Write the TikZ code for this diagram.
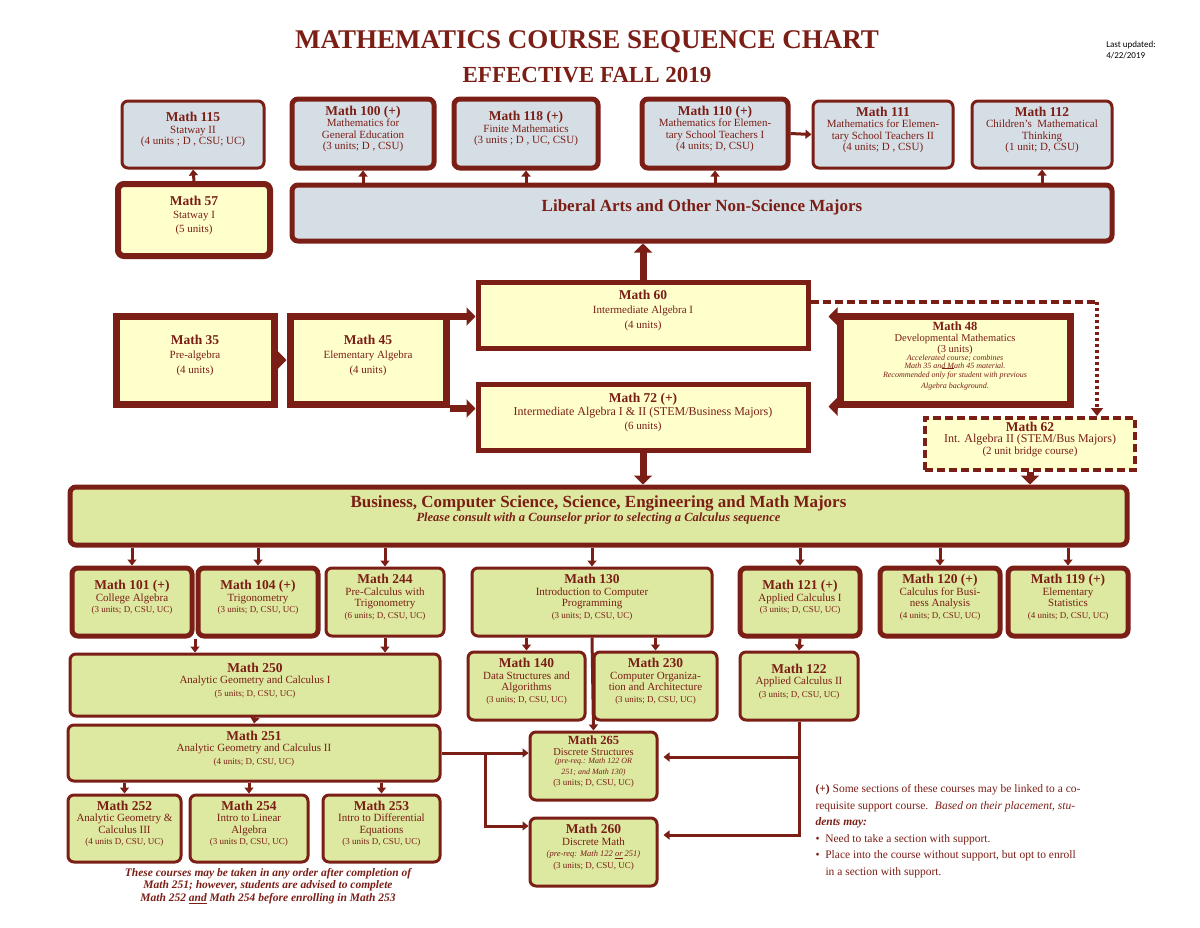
\documentclass[tikz,border=0pt]{standalone}
\usepackage{fontspec}
\setmainfont{Liberation Serif}
\newfontfamily\lu{Carlito}
\usetikzlibrary{fit,calc,arrows.meta,shadows}
\definecolor{mred}{RGB}{122,30,22}
\definecolor{gfill}{RGB}{214,222,229}
\definecolor{yfill}{RGB}{255,255,204}
\definecolor{nfill}{RGB}{221,233,160}
\newcommand\un[1]{{\fontsize{9}{10.5}\selectfont #1}}
\newcommand\hd[1]{{\fontsize{13.5}{15}\selectfont\bfseries #1}}
\begin{document}
\begin{tikzpicture}[x=1pt,y=-1pt,
  every node/.style={text=mred,align=center,font=\fontsize{11}{11.5}\selectfont},
  bx/.style={draw=mred,line width=3pt,rounded corners=6pt,inner sep=0pt},
  bev/.style={bx,line width=5pt,drop shadow={fill=mred!60!black,shadow xshift=1.5pt,shadow yshift=-1.5pt,opacity=0.8}},
  sq/.style={draw=mred,line width=7pt,inner sep=0pt,sharp corners},
  arr/.style={draw=mred,line width=3pt,-{Triangle[length=6pt,width=9pt]}},
  fat/.style={draw=mred,line width=7pt,-{Triangle[length=9pt,width=18pt]}}]
\useasboundingbox (0,0) rectangle (1200,927);
\node[font=\fontsize{27}{30}\selectfont\bfseries] (t1) at (587,42) {MATHEMATICS COURSE SEQUENCE CHART};
\node[font=\fontsize{23}{25}\selectfont\bfseries] (t2) at (587,75) {EFFECTIVE FALL 2019};
\node[text=black,font=\lu\fontsize{9}{11}\selectfont,align=left] (upd) at (1131,50) {Last updated:\\4/22/2019};
% top row
\node[bx,fill=gfill,fit={(122,101)(264,168)}] (m115) {\hd{Math 115}\\Statway II\\(4 units ; D , CSU; UC)};
\node[bev,fill=gfill,fit={(292,99)(434,168)}] (m100) {\hd{Math 100 (+)}\\Mathematics for\\General Education\\(3 units; D , CSU)};
\node[bev,fill=gfill,fit={(454,99)(598,168)}] (m118) {\hd{Math 118 (+)}\\Finite Mathematics\\(3 units ; D , UC, CSU)};
\node[bev,fill=gfill,fit={(642,99)(788,168)}] (m110) {\hd{Math 110 (+)}\\Mathematics for Elemen-\\tary School Teachers I\\(4 units; D, CSU)};
\node[bx,fill=gfill,fit={(813,101)(953,168)}] (m111) {\hd{Math 111}\\Mathematics for Elemen-\\tary School Teachers II\\(4 units; D , CSU)};
\node[bx,fill=gfill,fit={(972,101)(1112,168)}] (m112) {\hd{Math 112}\\Children's~ Mathematical\\Thinking\\(1 unit; D, CSU)};
\node[bx,line width=6pt,fill=yfill,fit={(118,184)(270,256)}] (m57) {\hd{Math 57}\\[2pt]Statway I\\[2pt](5 units)};
\node[bx,line width=5pt,fill=gfill,fit={(292,185)(1112,241)}] (la) {\fontsize{17}{19}\selectfont\bfseries Liberal Arts and Other Non-Science Majors};
% middle
\node[sq,line width=5pt,fill=yfill,fit={(478,282)(808,348)}] (m60) {\hd{Math 60}\\[3pt]Intermediate Algebra I\\[3pt](4 units)};
\node[sq,fill=yfill,fit={(116,316)(274,404)}] (m35) {\hd{Math 35}\\[3pt]Pre-algebra\\[3pt](4 units)};
\node[sq,fill=yfill,fit={(290,316)(446,404)}] (m45) {\hd{Math 45}\\[3pt]Elementary Algebra\\[3pt](4 units)};
\node[sq,line width=5pt,fill=yfill,drop shadow={fill=mred!60!black,shadow xshift=1.5pt,shadow yshift=-1.5pt},fit={(478,384)(808,450)}] (m72) {\hd{Math 72 (+)}\\[2pt]{\fontsize{12}{13}\selectfont Intermediate Algebra I \& II (STEM/Business Majors)}\\[2pt](6 units)};
\node[sq,fill=yfill,fit={(840,316)(1070,404)},font=\fontsize{10.5}{11}\selectfont] (m48) {{\fontsize{12.5}{13}\selectfont\bfseries Math 48}\\Developmental Mathematics\\(3 units)\\{\fontsize{8}{8.3}\selectfont\itshape Accelerated course; combines\\Math 35 and Math 45 material.\\Recommended only for student with previous\\Algebra background.}};
\draw[mred,line width=0.5pt] ([xshift=-13.5pt,yshift=-8.3pt]m48.center) -- ++(12,0); % underline "and"
\node[draw=mred,line width=4pt,dashed,dash pattern=on 8pt off 4pt,fill=yfill,inner sep=0pt,fit={(925,418)(1135,470)}] (m62) {\hd{Math 62}\\{\fontsize{12}{13.5}\selectfont Int. Algebra II (STEM/Bus Majors)}\\(2 unit bridge course)};
\node[bx,line width=5pt,fill=nfill,fit={(70,487)(1127,545)}] (bus) {\fontsize{17}{19}\selectfont\bfseries Business, Computer Science, Science, Engineering and Math Majors\\[1pt]\fontsize{12.5}{14}\selectfont\bfseries\itshape Please consult with a Counselor prior to selecting a Calculus sequence};
% lower
\node[bev,fill=nfill,fit={(72,568)(192,636)}] (m101) {\hd{Math 101 (+)}\\College Algebra\\\un{(3 units; D, CSU, UC)}};
\node[bev,fill=nfill,fit={(198,568)(318,636)}] (m104) {\hd{Math 104 (+)}\\Trigonometry\\\un{(3 units; D, CSU, UC)}};
\node[bx,fill=nfill,fit={(326,568)(444,636)}] (m244) {\hd{Math 244}\\Pre-Calculus with\\Trigonometry\\\un{(6 units; D, CSU, UC)}};
\node[bx,fill=nfill,fit={(472,568)(712,636)}] (m130) {\hd{Math 130}\\Introduction to Computer\\Programming\\\un{(3 units; D, CSU, UC)}};
\node[bev,fill=nfill,fit={(740,568)(860,636)}] (m121) {\hd{Math 121 (+)}\\Applied Calculus I\\\un{(3 units; D, CSU, UC)}};
\node[bev,fill=nfill,fit={(880,568)(1000,636)}] (m120) {\hd{Math 120 (+)}\\Calculus for Busi-\\ness Analysis\\\un{(4 units; D, CSU, UC)}};
\node[bev,fill=nfill,fit={(1008,568)(1128,636)}] (m119) {\hd{Math 119 (+)}\\Elementary\\Statistics\\\un{(4 units; D, CSU, UC)}};
\node[bx,fill=nfill,fit={(70,654)(440,716)}] (m250) {\hd{Math 250}\\Analytic Geometry and Calculus I\\[1pt]\un{(5 units; D, CSU, UC)}};
\node[bx,fill=nfill,fit={(468,652)(585,720)}] (m140) {\hd{Math 140}\\Data Structures and\\Algorithms\\\un{(3 units; D, CSU, UC)}};
\node[bx,fill=nfill,fit={(594,652)(717,720)}] (m230) {\hd{Math 230}\\Computer Organiza-\\tion and Architecture\\\un{(3 units; D, CSU, UC)}};
\node[bx,fill=nfill,fit={(740,652)(858,720)}] (m122) {\hd{Math 122}\\Applied Calculus II\\[1pt]\un{(3 units; D, CSU, UC)}};
\node[bx,fill=nfill,fit={(68,725)(440,781)}] (m251) {\hd{Math 251}\\Analytic Geometry and Calculus II\\[1pt]\un{(4 units; D, CSU, UC)}};
\node[bx,fill=nfill,fit={(530,732)(657,800)},font=\fontsize{10.5}{11}\selectfont] (m265) {{\fontsize{12.5}{13}\selectfont\bfseries Math 265}\\Discrete Structures\\{\fontsize{8}{8.5}\selectfont\itshape (pre-req.: Math 122 OR\\251; and Math 130)}\\\un{(3 units; D, CSU, UC)}};
\node[bx,fill=nfill,fit={(530,818)(657,886)}] (m260) {\hd{Math 260}\\Discrete Math\\{\fontsize{8.5}{9.5}\selectfont\itshape (pre-req: Math 122 \underline{or} 251)}\\\un{(3 units; D, CSU, UC)}};
\node[bx,fill=nfill,fit={(68,795)(181,862)}] (m252) {\hd{Math 252}\\Analytic Geometry \&\\Calculus III\\\un{(4 units D, CSU, UC)}};
\node[bx,fill=nfill,fit={(190,795)(308,862)}] (m254) {\hd{Math 254}\\Intro to Linear\\Algebra\\\un{(3 units D, CSU, UC)}};
\node[bx,fill=nfill,fit={(323,795)(440,862)}] (m253) {\hd{Math 253}\\Intro to Differential\\Equations\\\un{(3 units D, CSU, UC)}};
\node[font=\fontsize{11.5}{12.5}\selectfont\bfseries\itshape] (note1) at (268,886) {These courses may be taken in any order after completion of\\Math 251; however, students are advised to complete\\Math 252 \underline{and} Math 254 before enrolling in Math 253};
\node[anchor=north west,align=left,font=\fontsize{11.5}{16.5}\selectfont] (note2) at (812,781) {\textbf{(+)} Some sections of these courses may be linked to a co-\\requisite support course.~ \textit{Based on their placement, stu-}\\\textbf{\textit{dents may:}}\\
\textbullet~~Need to take a section with support.\\
\textbullet~~Place into the course without support, but opt to enroll\\\hspace*{10pt}in a section with support.};
% connectors
\draw[arr] (m57.north) -- (m115.south);
\draw[arr] (la.north -| m100.south) -- (m100.south);
\draw[arr] (la.north -| m118.south) -- (m118.south);
\draw[arr] (la.north -| m110.south) -- (m110.south);
\draw[arr] (la.north -| m112.south) -- (m112.south);
\draw[arr] (m110.east) -- (m111.west);
\draw[fat] (m60.north) -- (la.south -| m60.north);
\draw[fat] (m35.east) -- (m45.west);
\draw[fat] ([yshift=-4pt]m45.north east) -- ([yshift=-4pt]m45.north east -| m60.west);
\draw[fat] ([yshift=-1pt]m45.south east) -- ([yshift=-1pt]m45.south east -| m72.west);
\draw[fat,shorten >=18pt] ([yshift=-4pt]m48.north west) -- ([yshift=-4pt]m48.north west -| m60.east);
\draw[fat,shorten >=18pt] ([yshift=1pt]m48.south west) -- ([yshift=1pt]m48.south west -| m72.east);
\coordinate (dd) at ([xshift=67pt]m62.north);
\draw[mred,line width=3.5pt,dash pattern=on 8pt off 4pt] ([yshift=13pt]m60.east) -- ([yshift=13pt]m60.east -| dd);
\draw[mred,line width=3.5pt,dash pattern=on 3pt off 3pt,-{Triangle[length=8pt,width=12pt]}] ([yshift=13pt]m60.east -| dd) -- (dd);
\draw[fat] (m72.south) -- (bus.north -| m72.south);
\draw[fat] (m62.south) -- (bus.north -| m62.south);
\foreach \n in {m101,m104,m244,m130,m121,m120,m119}
  \draw[arr] (bus.south -| \n.north) -- (\n.north);
\coordinate (j0) at ($(m101.south east)!.5!(m104.south west)$);
\draw[arr] (j0) -- (m250.north -| j0);
\draw[arr] (m244.south) -- (m250.north -| m244.south);
\draw[arr] (m130.south -| m140.north) -- (m140.north);
\draw[arr] (m130.south -| m230.north) -- (m230.north);
\draw[arr] (m130.south) -- (m265.north);
\draw[arr] (m121.south) -- (m122.north);
\draw[arr] (m250.south) -- (m251.north);
\draw[arr] (m251.south -| m252.north) -- (m252.north);
\draw[arr] (m251.south -| m254.north) -- (m254.north);
\draw[arr] (m251.south -| m253.north) -- (m253.north);
\draw[arr] (m251.east) -- (m251.east -| m265.west);
\coordinate (j1) at ([xshift=44pt]m251.east);
\draw[arr] (j1) |- ([yshift=26pt]m260.west);
\draw[arr,shorten >=5pt] (m122.south) |- ([yshift=9pt]m265.east);
\draw[arr,shorten >=5pt] (m122.south) |- ([yshift=17pt]m260.east);
\end{tikzpicture}
\end{document}
